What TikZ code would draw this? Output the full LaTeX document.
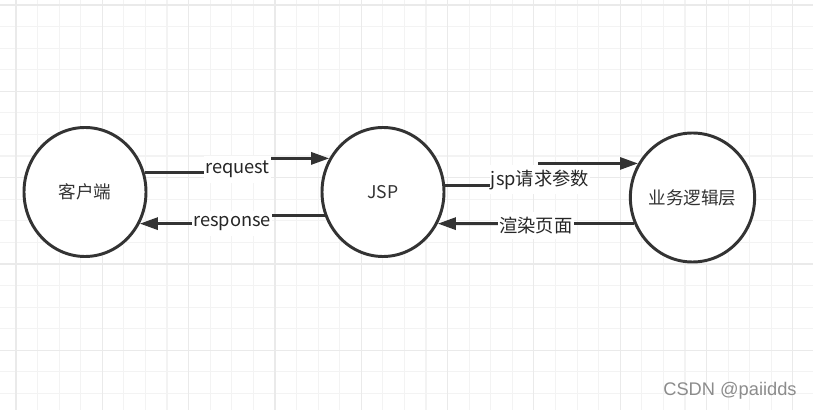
\documentclass[tikz,border=0pt]{standalone}
\usepackage{fontspec}
\setmainfont{Noto Sans CJK SC}
\newfontfamily\markfont{Liberation Sans}
\usetikzlibrary{shapes.geometric, arrows.meta}
\definecolor{ink}{HTML}{333333}
\definecolor{gridlight}{HTML}{F3F3F3}
\definecolor{griddark}{HTML}{EAEAEA}

\begin{document}
\begin{tikzpicture}[
    x=0.25mm, y=-0.25mm,
    gridminor/.style={draw=gridlight, line width=0.8pt},
    gridmajor/.style={draw=griddark, line width=0.8pt},
    blob/.style={ellipse, draw=ink, line width=2.1pt, fill=white, inner sep=0pt, minimum width=30.5mm, minimum height=32.25mm, text=ink, font=\fontsize{12.5}{15}\selectfont},
    flow/.style={draw=ink, line width=2pt, -{Triangle[length=4.5mm, width=3mm]}},
    tag/.style={fill=white, inner xsep=1pt, inner ysep=3.5pt, text=black!85, font=\fontsize{13}{16}\selectfont},
    watermark/.style={text=black!45, font=\markfont\fontsize{13}{16}\selectfont}
]
\useasboundingbox (0,0) rectangle (813,410);
\fill[white] (0,0) rectangle (813,410);

% background grid
\foreach \i in {0,...,37} {
    \draw [gridminor] (16+21.58*\i,0) -- (16+21.58*\i,410);
}
\foreach \j in {0,...,18} {
    \draw [gridminor] (0,5+21.58*\j) -- (813,5+21.58*\j);
}
\foreach \i in {0,...,9} {
    \draw [gridmajor] (16+86.32*\i,0) -- (16+86.32*\i,410);
}
\foreach \j in {0,...,4} {
    \draw [gridmajor] (0,5+86.32*\j) -- (813,5+86.32*\j);
}

% --- Nodes ---
\node (client) at (85,192) [blob] {客户端};
\node (jsp) at (383,192) [blob] {JSP};
\node (logic) at (692.5,197.5) [blob] {业务逻辑层};

% bends of the connectors
\coordinate (reqbend) at (237,166);
\coordinate (respbend) at (232,219);
\coordinate (parambend) at (539,175);

% --- Edges ---
\draw [flow] (client.18) -| (reqbend) |- (jsp.148);
\draw [flow] (jsp.202) -| (respbend) |- (client.330);
\draw [flow] (jsp.6) -| (parambend) |- (logic.148);
\draw [flow] (logic.204) -- node[tag, yshift=-0.4mm] (rendertag) {渲染页面} (jsp.330);

% --- Labels ---
\node (reqtag) at (237.5,169.5) [tag] {request};
\node (resptag) at (232,223.5) [tag] {response};
\node (paramtag) at (540,179.5) [tag] {jsp请求参数};

\node (csdn) at (730,391) [watermark] {CSDN @paiidds};

\end{tikzpicture}
\end{document}
